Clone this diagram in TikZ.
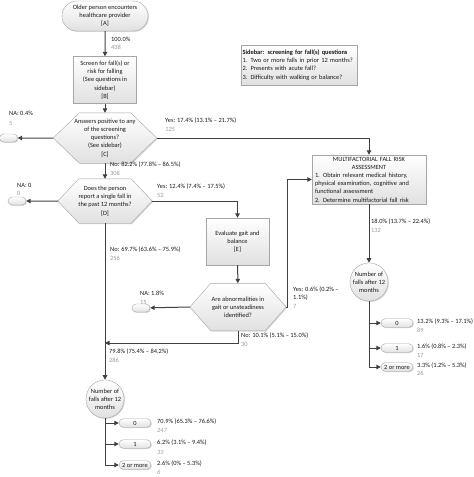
\documentclass[tikz,border=0pt]{standalone}
\usepackage{fontspec}
\setmainfont{Carlito}
\usetikzlibrary{shapes.misc,arrows.meta,backgrounds,shadows}
\newcommand\flowfont{\fontsize{6.4}{8.2}\selectfont}
% hexagon behind a decision node: node name, depth of the points
\newcommand\hexfor[2]{\draw[hexa] (#1.west) -- ([xshift=#2]#1.north west) -- ([xshift=-#2]#1.north east) -- (#1.east) -- ([xshift=-#2]#1.south east) -- ([xshift=#2]#1.south west) -- cycle;}

\begin{document}
\begin{tikzpicture}[x=1pt, y=-1pt,
    soft/.style={drop shadow={shadow xshift=0.9pt, shadow yshift=-0.9pt, fill=black!45, opacity=0.35}},
    box/.style={draw=black!35, top color=white, bottom color=black!12, soft, font=\flowfont, text=black!90, align=center, inner sep=1pt},
    term/.style={box, rounded rectangle},
    proc/.style={box, rectangle},
    decide/.style={rectangle, font=\flowfont, text=black!90, align=center, inner sep=0pt},
    hexa/.style={draw=black!35, top color=white, bottom color=black!12, soft},
    count/.style={box, circle, minimum size=37pt, inner sep=0pt},
    outc/.style={box, rounded rectangle, minimum width=34pt, minimum height=8.5pt, inner ysep=0pt},
    stub/.style={box, rounded rectangle, minimum width=18pt, minimum height=8pt, inner sep=0pt},
    edge/.style={draw=black!75, line width=1pt, -{Triangle[length=4.5pt, width=4.5pt]}},
    lab/.style={font=\flowfont, text=black!90, anchor=west, inner sep=0pt, align=left},
    num/.style={lab, text=black!40}
]
\useasboundingbox (0,0) rectangle (474,477);

% ---- nodes ----
\node[term, minimum width=88pt, minimum height=30pt] (A) at (105,16) {Older person encounters\\healthcare provider\\{[A]}};
\node[proc, minimum width=63pt, minimum height=47pt] (B) at (105,80) {Screen for fall(s) or\\risk for falling\\(See questions in\\sidebar)\\{[B]}};
\node[decide, minimum width=103pt, minimum height=50pt] (C) at (105,138) {Answers positive to any\\of the screening\\questions?\\(See sidebar)\\{[C]}};
\node[decide, minimum width=94pt, minimum height=44pt] (D) at (105,201) {Does the person\\report a single fall in\\the past 12 months?\\{[D]}};
\node[proc, minimum width=63pt, minimum height=47pt] (E) at (237.5,241.5) {Evaluate gait and\\balance\\{[E]}};
\node[decide, minimum width=96pt, minimum height=47pt] (F) at (238,307) {Are abnormalities in\\gait or unsteadiness\\identified?};
\node[proc, minimum width=114pt, minimum height=49pt, text width=108pt, align=left] (MF) at (369,179.5) {\makebox[108pt][c]{MULTIFACTORIAL FALL RISK}\\\makebox[108pt][c]{ASSESSMENT}\\\makebox[108pt][s]{1. Obtain relevant medical history,}\\\makebox[108pt][s]{physical examination, cognitive and}\\functional assessment\\2. Determine multifactorial fall risk};
\node[proc, minimum width=116pt, minimum height=40pt, text width=113pt, align=left] (side) at (299,65) {\textbf{Sidebar: screening for fall(s) questions}\\1. Two or more falls in prior 12 months?\\2. Presents with acute fall?\\3. Difficulty with walking or balance?};
\node[count] (G) at (105,399) {Number of\\falls after 12\\months};
\node[count] (H) at (369,282) {Number of\\falls after 12\\months};

\node[stub] (naC) at (8.5,138) {};
\node[stub] (naD) at (17,201) {};
\node[stub] (naF) at (141,308) {};

\node[outc] (g0) at (135,423) {0};
\node[outc] (g1) at (135,444) {1};
\node[outc] (g2) at (135,465) {2 or more};
\node[outc] (h0) at (397,323) {0};
\node[outc] (h1) at (397,348) {1};
\node[outc] (h2) at (397,367) {2 or more};

\coordinate (j1) at (105,343);

\begin{scope}[on background layer]
\hexfor{C}{26pt}
\hexfor{D}{21pt}
\hexfor{F}{21pt}
\end{scope}

% ---- edges ----
\draw[edge] (A) -- (B);
\draw[edge] (B) -- (C);
\draw[edge] (C) -- (D);
\draw[edge] (C.west) -- (naC);
\draw[edge] (C.east) -| (MF.north);
\draw[edge] (D.west) -- (naD);
\draw[edge] (D.east) -| (E.north);
\draw[edge] (D.south) -- (G.north);
\draw[edge] (E) -- (F);
\draw[edge] (F.west) -- (naF);
\draw[edge] (F.east) -- ++(1,0) |- (MF.west);
\draw[edge] (F.south) |- (j1);
\draw[edge] (MF.south) -- (H.north);

\draw[edge] (G.south) |- (g0.west);
\draw[edge] (G.south) |- (g1.west);
\draw[edge] (G.south) |- (g2.west);
\draw[edge] (H.south) |- (h0.west);
\draw[edge] (H.south) |- (h1.west);
\draw[edge] (H.south) |- (h2.west);

% ---- labels ----
\node[lab] (lA1) at (111,39) {100.0\%};
\node[num] (lA2) at (111,47) {438};
\node[lab] (lCna1) at (9,113) {NA: 0.4\%};
\node[num] (lCna2) at (9,123) {5};
\node[lab] (lCy1) at (165,121) {Yes: 17.4\% (13.1\% – 21.7\%)};
\node[num] (lCy2) at (165,129) {\textit{125}};
\node[lab] (lCn1) at (110,165) {No: 82.2\% (77.8\% – 86.5\%)};
\node[num] (lCn2) at (110,173) {308};
\node[lab] (lDna1) at (17,185) {NA: 0};
\node[num] (lDna2) at (17,193) {0};
\node[lab] (lDy1) at (157,187) {Yes: 12.4\% (7.4\% – 17.5\%)};
\node[num] (lDy2) at (157,195) {52};
\node[lab] (lDn1) at (110,250) {No: 69.7\% (63.6\% – 75.9\%)};
\node[num] (lDn2) at (110,258) {256};
\node[lab] (lFna1) at (140,293) {NA: 1.8\%};
\node[num] (lFna2) at (140,302) {15};
\node[lab] (lFy1) at (293,294) {Yes: 0.6\% (0.2\% –\\1.1\%)};
\node[num] (lFy2) at (293,306) {7};
\node[lab] (lFn1) at (241,336) {No: 10.1\% (5.1\% – 15.0\%)};
\node[num] (lFn2) at (241,344) {30};
\node[lab] (lJ1) at (109,352) {79.8\% (75.4\% – 84.2\%)};
\node[num] (lJ2) at (109,360) {286};
\node[lab] (lMF1) at (371,222) {18.0\% (13.7\% – 22.4\%)};
\node[num] (lMF2) at (371,230) {132};

\node[lab] (lg0) at (157,422) {70.9\% (65.3\% – 76.6\%)};
\node[num] (ng0) at (157,430) {\textit{247}};
\node[lab] (lg1) at (157,443) {6.2\% (3.1\% – 9.4\%)};
\node[num] (ng1) at (157,452) {\textit{33}};
\node[lab] (lg2) at (157,464) {2.6\% (0\% – 5.3\%)};
\node[num] (ng2) at (157,472) {\textit{6}};
\node[lab] (lh0) at (417,322) {13.2\% (9.3\% – 17.1\%)};
\node[num] (nh0) at (417,330) {89};
\node[lab] (lh1) at (417,347) {1.6\% (0.8\% – 2.3\%)};
\node[num] (nh1) at (417,355) {17};
\node[lab] (lh2) at (417,366) {3.3\% (1.2\% – 5.3\%)};
\node[num] (nh2) at (417,373) {26};

\end{tikzpicture}
\end{document}
